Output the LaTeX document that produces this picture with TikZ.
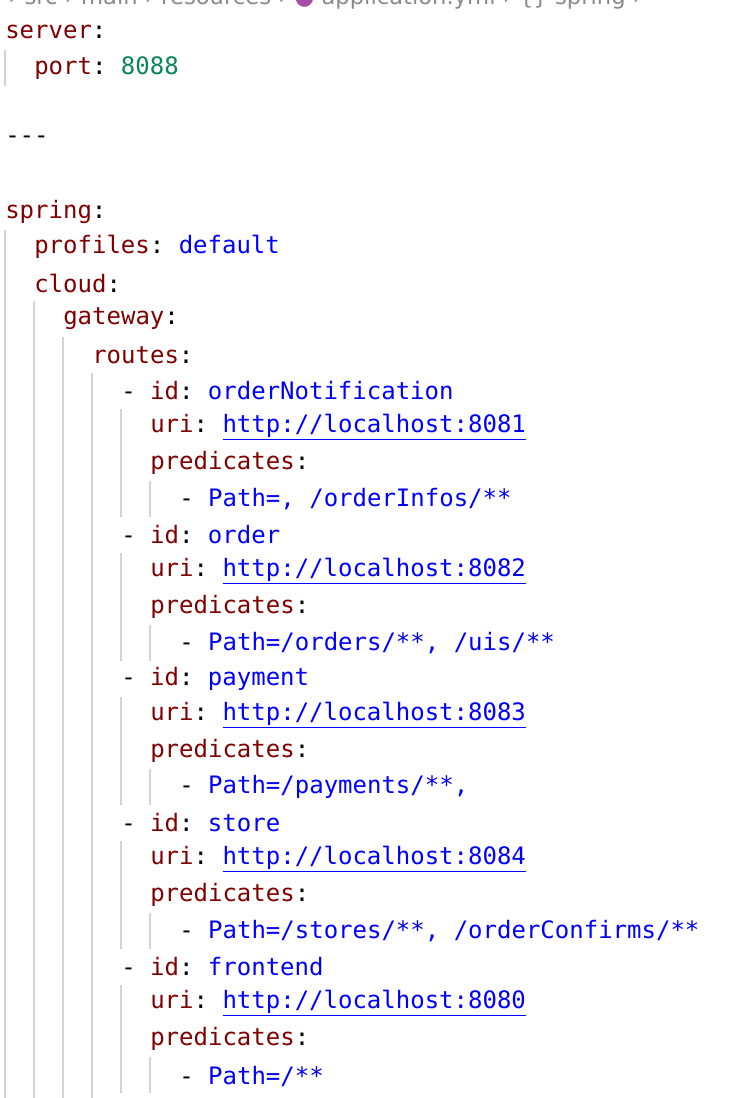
\documentclass[tikz,border=0pt]{standalone}
\usepackage{fontspec}
\setmainfont[Ligatures=NoCommon,Mapping={}]{DejaVu Sans Mono}
\newfontfamily\crumbfont{DejaVu Sans}
\definecolor{keyc}{HTML}{800000}
\definecolor{valc}{HTML}{0000FF}
\definecolor{numc}{HTML}{098658}
\definecolor{guidec}{HTML}{D3D3D3}
\definecolor{crumbc}{HTML}{8A8A8A}
\newcommand{\K}[1]{\textcolor{keyc}{#1}}
\newcommand{\V}[1]{\textcolor{valc}{#1}}
\newcommand{\U}[1]{\textcolor{valc}{\underline{#1}}}
\tikzset{ln/.style={anchor=west,inner sep=0pt,font=\fontsize{18pt}{18pt}\selectfont\frenchspacing},
guide/.style={draw=guidec,line width=1.2pt}}
\begin{document}
\begin{tikzpicture}[x=0.75pt,y=-0.75pt]
\useasboundingbox (0,0) rectangle (746,1098);
\clip (0,0) rectangle (746,1098);
\fill[white] (0,0) rectangle (746,1098);
\node[anchor=west,inner sep=0pt,text=crumbc,font=\crumbfont\fontsize{17pt}{17pt}\selectfont] (crumb) at (8,-2) {› src › main › resources › \textcolor{violet!70}{●} application.yml › \{\} spring ›};
% guides
\draw[guide] (5,50) -- (5,86);
\draw[guide] (5,230) -- (5,1098);
\draw[guide] (34,301) -- (34,1098);
\draw[guide] (63,337) -- (63,1098);
\draw[guide] (92,373) -- (92,1098);
\foreach \y in {391,535,679,823,967}{
  \draw[guide] (121,\y+18) -- (121,\y+126);
  \draw[guide] (150,\y+90) -- (150,\y+126);
}
\node[ln] (l1) at (5,32) {\K{server}:};
\node[ln] (l2) at (34,68) {\K{port}: \textcolor{numc}{8088}};
\node[ln] (l3) at (5,140) {{-}{-}{-}};
\node[ln] (l4) at (5,212) {\K{spring}:};
\node[ln] (l5) at (34,247) {\K{profiles}: \V{default}};
\node[ln] (l6) at (34,283) {\K{cloud}:};
\node[ln] (l7) at (63,319) {\K{gateway}:};
\node[ln] (l8) at (92,355) {\K{routes}:};
\node[ln] (a1) at (121,391) {- \K{id}: \V{orderNotification}};
\node[ln] (a2) at (150,427) {\K{uri}: \U{http://localhost:8081}};
\node[ln] (a3) at (150,463) {\K{predicates}:};
\node[ln] (a4) at (179,499) {- \V{Path=, /orderInfos/**}};
\node[ln] (b1) at (121,535) {- \K{id}: \V{order}};
\node[ln] (b2) at (150,571) {\K{uri}: \U{http://localhost:8082}};
\node[ln] (b3) at (150,607) {\K{predicates}:};
\node[ln] (b4) at (179,643) {- \V{Path=/orders/**, /uis/**}};
\node[ln] (c1) at (121,679) {- \K{id}: \V{payment}};
\node[ln] (c2) at (150,715) {\K{uri}: \U{http://localhost:8083}};
\node[ln] (c3) at (150,751) {\K{predicates}:};
\node[ln] (c4) at (179,787) {- \V{Path=/payments/**,}};
\node[ln] (d1) at (121,823) {- \K{id}: \V{store}};
\node[ln] (d2) at (150,859) {\K{uri}: \U{http://localhost:8084}};
\node[ln] (d3) at (150,895) {\K{predicates}:};
\node[ln] (d4) at (179,931) {- \V{Path=/stores/**, /orderConfirms/**}};
\node[ln] (e1) at (121,967) {- \K{id}: \V{frontend}};
\node[ln] (e2) at (150,1003) {\K{uri}: \U{http://localhost:8080}};
\node[ln] (e3) at (150,1039) {\K{predicates}:};
\node[ln] (e4) at (179,1076) {- \V{Path=/**}};
\end{tikzpicture}
\end{document}
